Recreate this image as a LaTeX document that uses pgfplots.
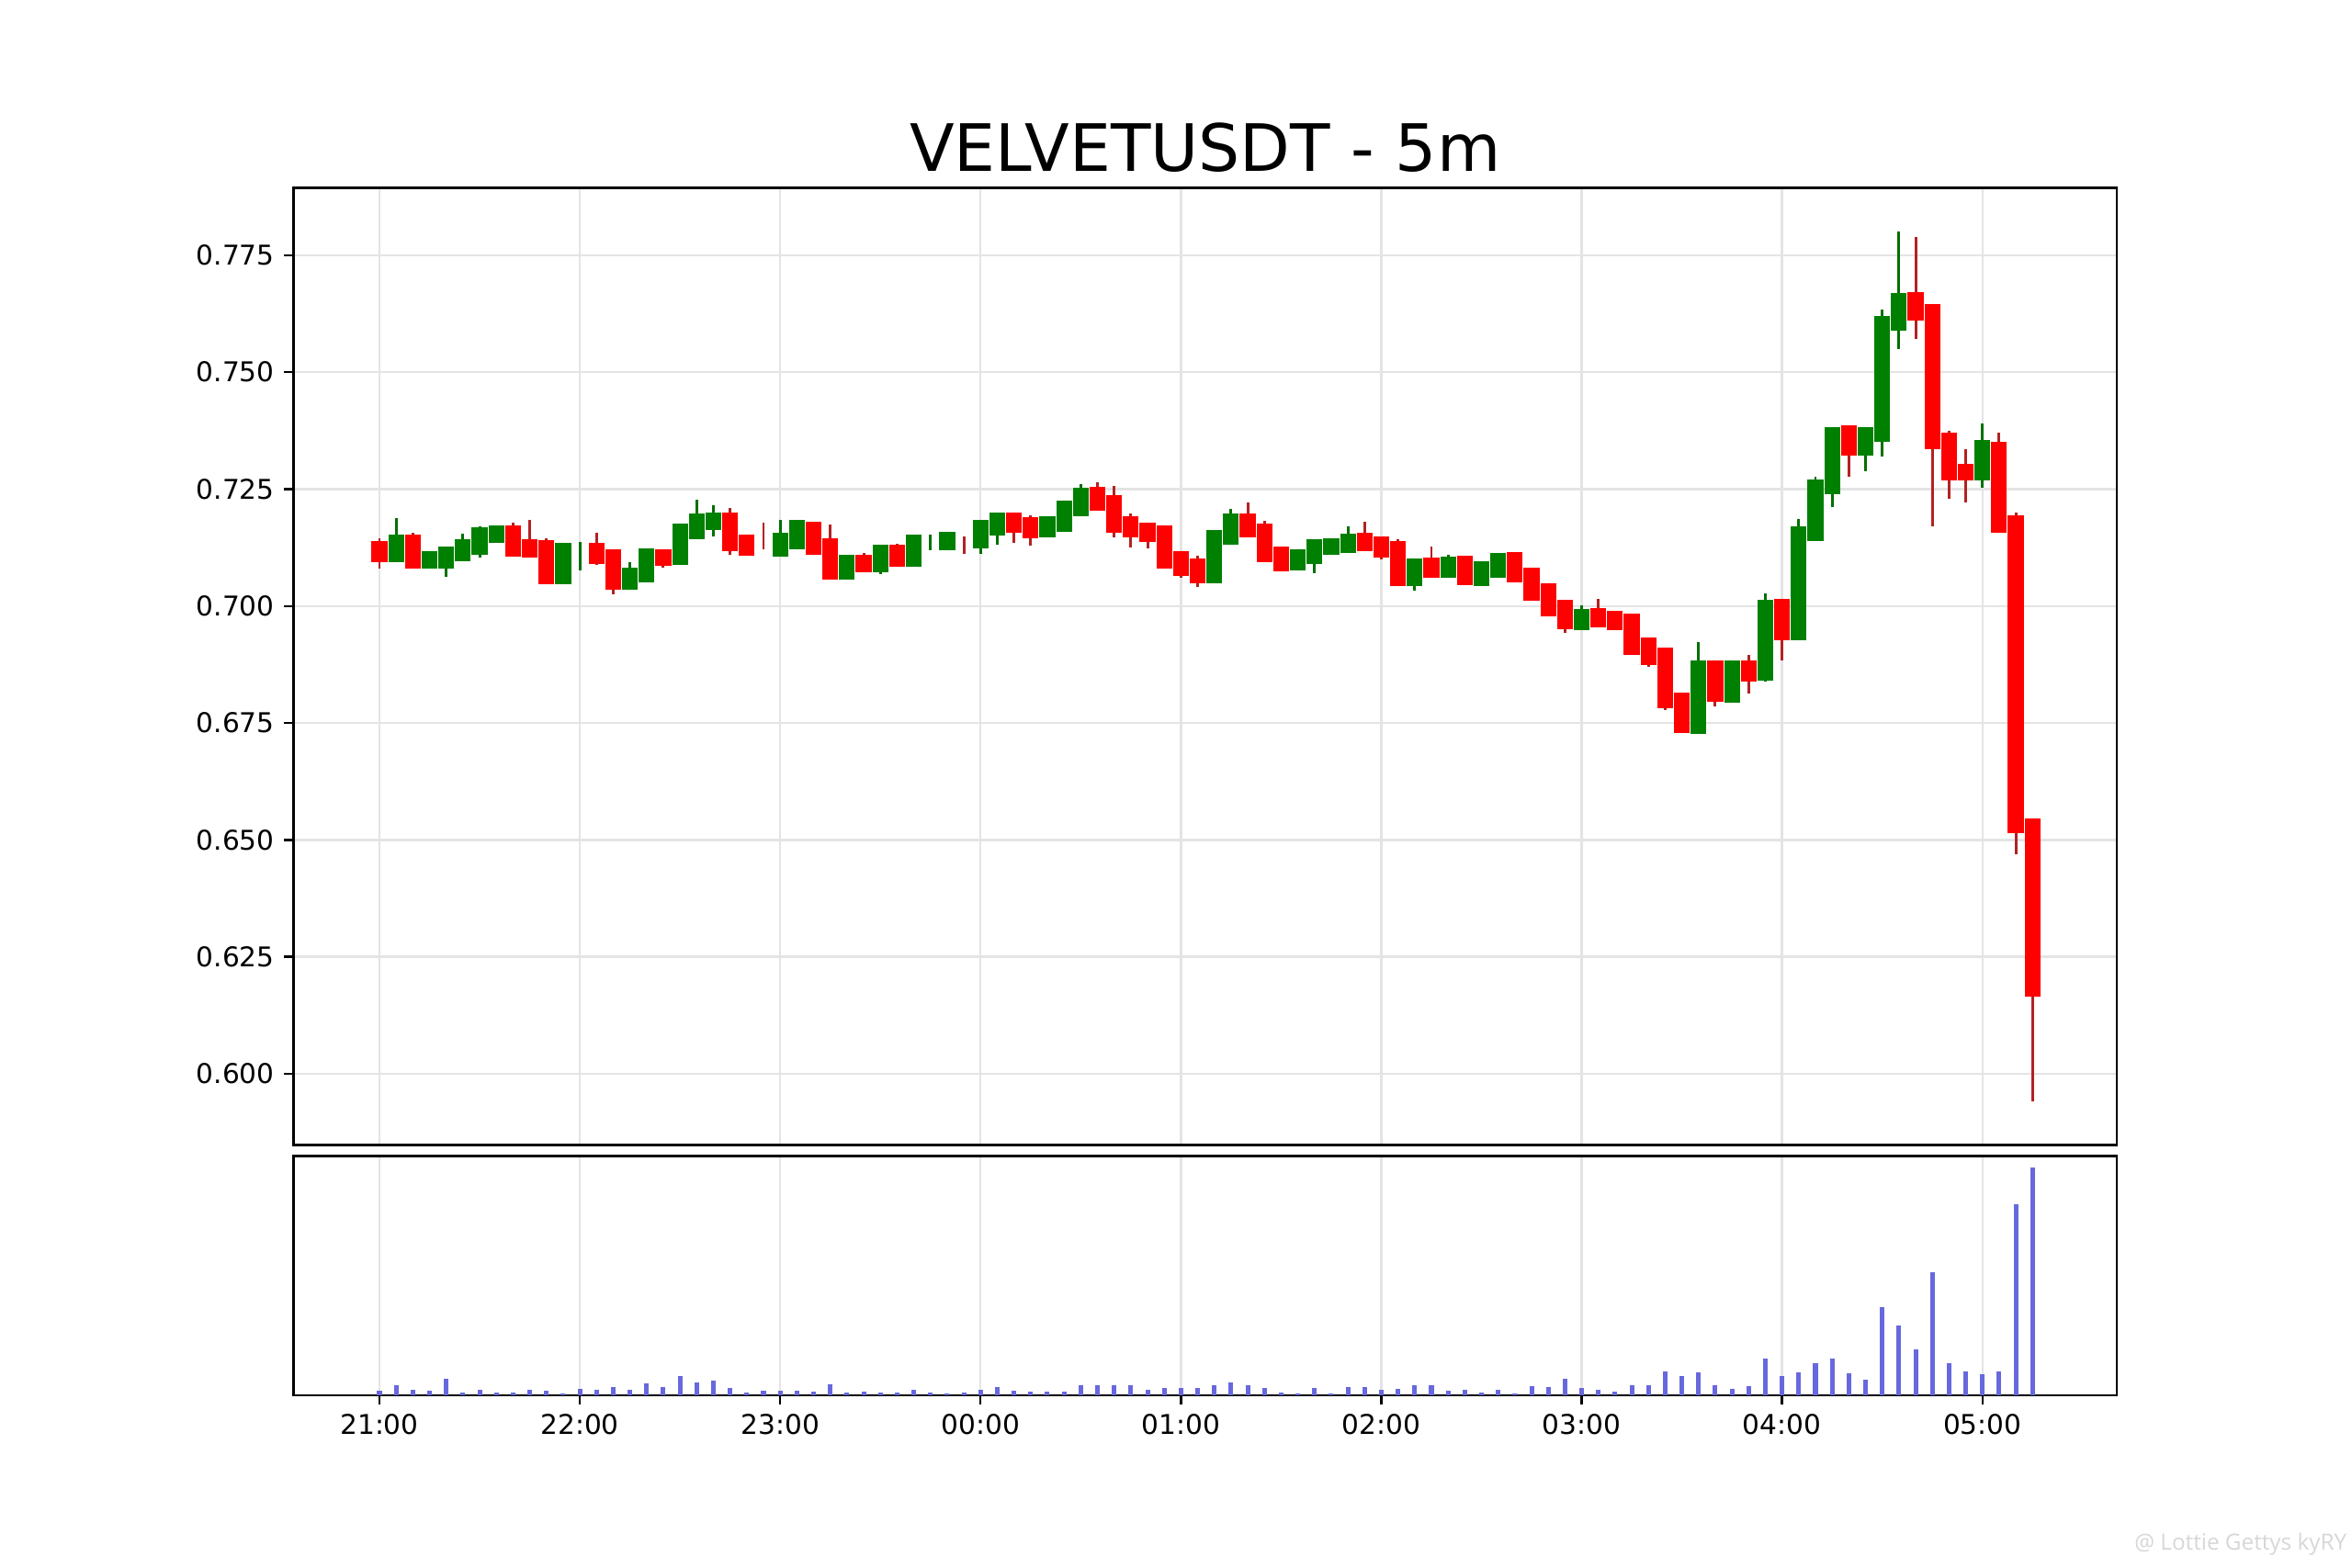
\documentclass[border=0pt]{standalone}
\usepackage{fontspec}
\setmainfont{DejaVu Sans}
\newfontfamily\wmfont{Open Sans}
\usepackage{pgfplots}
\usepackage{pgfplotstable}
\pgfplotsset{compat=1.18}

\definecolor{upbody}{RGB}{0,128,0}
\definecolor{downbody}{RGB}{255,0,0}
\definecolor{upwick}{RGB}{0,112,0}
\definecolor{downwick}{RGB}{178,34,34}
\definecolor{volc}{RGB}{104,104,222}
\definecolor{gridc}{RGB}{228,228,228}
\definecolor{wmc}{RGB}{215,215,215}

% green (up) candles: i open high low close
\pgfplotstableread{
i o h l c
1 0.7094 0.7188 0.7094 0.7152
3 0.7081 0.7117 0.7080 0.7117
4 0.7081 0.7128 0.7063 0.7128
5 0.7096 0.7155 0.7096 0.7143
6 0.7110 0.7170 0.7104 0.7168
7 0.7136 0.7173 0.7136 0.7172
11 0.7047 0.7135 0.7047 0.7135
12 0.7110 0.7138 0.7077 0.7110
15 0.7035 0.7094 0.7035 0.7083
16 0.7050 0.7124 0.7050 0.7124
18 0.7089 0.7176 0.7089 0.7176
19 0.7143 0.7228 0.7143 0.7198
20 0.7162 0.7215 0.7149 0.7200
24 0.7106 0.7184 0.7106 0.7156
25 0.7122 0.7184 0.7122 0.7184
28 0.7057 0.7109 0.7057 0.7109
30 0.7073 0.7132 0.7069 0.7132
32 0.7084 0.7152 0.7084 0.7152
33 0.7135 0.7152 0.7120 0.7135
34 0.7119 0.7158 0.7119 0.7158
36 0.7124 0.7184 0.7112 0.7184
37 0.7150 0.7200 0.7132 0.7200
40 0.7146 0.7193 0.7146 0.7193
41 0.7159 0.7225 0.7159 0.7225
42 0.7192 0.7260 0.7192 0.7253
50 0.7049 0.7162 0.7049 0.7162
51 0.7132 0.7207 0.7132 0.7199
55 0.7076 0.7122 0.7076 0.7122
56 0.7090 0.7142 0.7070 0.7142
57 0.7109 0.7144 0.7109 0.7144
58 0.7113 0.7170 0.7113 0.7154
62 0.7042 0.7101 0.7032 0.7101
64 0.7060 0.7109 0.7060 0.7105
66 0.7042 0.7096 0.7042 0.7096
67 0.7060 0.7113 0.7060 0.7113
72 0.6948 0.7002 0.6948 0.6993
79 0.6727 0.6923 0.6727 0.6883
81 0.6793 0.6884 0.6793 0.6884
83 0.6840 0.7028 0.6838 0.7014
85 0.6927 0.7187 0.6927 0.7171
86 0.7139 0.7276 0.7139 0.7271
87 0.7240 0.7383 0.7211 0.7383
89 0.7321 0.7383 0.7288 0.7383
90 0.7351 0.7635 0.7320 0.7620
91 0.7589 0.7801 0.7549 0.7670
96 0.7268 0.7391 0.7252 0.7355
}\updata

% red (down) candles: i open high low close
\pgfplotstableread{
i o h l c
0 0.7140 0.7145 0.7080 0.7094
2 0.7152 0.7156 0.7081 0.7081
8 0.7172 0.7178 0.7106 0.7106
9 0.7143 0.7184 0.7103 0.7103
10 0.7141 0.7144 0.7047 0.7047
13 0.7135 0.7156 0.7088 0.7089
14 0.7122 0.7122 0.7026 0.7035
17 0.7122 0.7122 0.7082 0.7086
21 0.7200 0.7210 0.7110 0.7118
22 0.7152 0.7152 0.7108 0.7108
23 0.7150 0.7179 0.7122 0.7150
26 0.7181 0.7181 0.7109 0.7109
27 0.7145 0.7175 0.7056 0.7056
29 0.7109 0.7113 0.7073 0.7073
31 0.7131 0.7133 0.7084 0.7084
35 0.7130 0.7148 0.7112 0.7130
38 0.7200 0.7200 0.7135 0.7156
39 0.7190 0.7194 0.7130 0.7145
43 0.7255 0.7264 0.7203 0.7203
44 0.7238 0.7257 0.7147 0.7156
45 0.7192 0.7198 0.7125 0.7146
46 0.7179 0.7179 0.7124 0.7138
47 0.7172 0.7172 0.7080 0.7080
48 0.7118 0.7118 0.7061 0.7065
49 0.7101 0.7107 0.7040 0.7049
52 0.7197 0.7222 0.7146 0.7146
53 0.7177 0.7183 0.7094 0.7094
54 0.7127 0.7127 0.7075 0.7075
59 0.7156 0.7181 0.7117 0.7117
60 0.7149 0.7149 0.7099 0.7103
61 0.7139 0.7143 0.7042 0.7042
63 0.7103 0.7128 0.7060 0.7060
65 0.7107 0.7107 0.7044 0.7044
68 0.7115 0.7115 0.7050 0.7050
69 0.7083 0.7083 0.7012 0.7012
70 0.7049 0.7049 0.6978 0.6978
71 0.7014 0.7014 0.6943 0.6950
73 0.6995 0.7015 0.6955 0.6955
74 0.6989 0.6989 0.6948 0.6948
75 0.6983 0.6983 0.6896 0.6896
76 0.6933 0.6933 0.6871 0.6874
77 0.6911 0.6911 0.6778 0.6781
78 0.6815 0.6815 0.6729 0.6729
80 0.6883 0.6883 0.6785 0.6795
82 0.6884 0.6895 0.6814 0.6839
84 0.7016 0.7016 0.6884 0.6927
88 0.7386 0.7386 0.7277 0.7322
92 0.7672 0.7790 0.7572 0.7610
93 0.7646 0.7646 0.7171 0.7336
94 0.7370 0.7375 0.7230 0.7268
95 0.7305 0.7335 0.7221 0.7268
97 0.7352 0.7371 0.7156 0.7156
98 0.7195 0.7200 0.6470 0.6514
99 0.6547 0.6547 0.5941 0.6166
}\downdata

% volume (relative units, max = 100)
\pgfplotstableread{
i v
0 2.1
1 4.4
2 2.4
3 2.1
4 7.2
5 1.3
6 2.4
7 1.2
8 1.3
9 2.6
10 2.1
11 0.9
12 2.8
13 2.6
14 3.8
15 2.4
16 5.4
17 3.8
18 8.5
19 5.8
20 6.6
21 3.2
22 1.2
23 2.1
24 2.1
25 2.1
26 1.7
27 4.7
28 1.3
29 1.7
30 1.3
31 1.2
32 2.4
33 1.3
34 0.8
35 1.2
36 2.4
37 3.5
38 2.1
39 1.7
40 1.7
41 1.7
42 4.3
43 4.3
44 4.4
45 4.4
46 2.4
47 3.2
48 3.2
49 3.4
50 4.4
51 5.8
52 4.4
53 3.4
54 1.2
55 0.9
56 3.4
57 0.9
58 3.8
59 3.8
60 2.4
61 3.0
62 4.4
63 4.4
64 2.1
65 2.6
66 1.2
67 2.6
68 0.9
69 4.2
70 3.5
71 7.4
72 3.2
73 2.6
74 1.6
75 4.4
76 4.4
77 10.6
78 8.5
79 10.1
80 4.4
81 3.0
82 4.2
83 16.0
84 8.3
85 10.1
86 14.1
87 16.2
88 9.8
89 7.0
90 38.8
91 30.7
92 20.3
93 54.0
94 14.1
95 10.3
96 9.4
97 10.6
98 83.6
99 100
}\voldata

\pgfplotsset{
  candleaxis/.style={
    scale only axis,
    anchor=south west,
    width=669.8pt,
    xmin=-5.15, xmax=104.05,
    axis line style={line width=0.8pt, black},
    tick align=outside,
    xtick pos=bottom, ytick pos=left,
    major tick length=3.5pt,
    major tick style={line width=0.8pt, black},
    tick label style={font=\fontsize{10}{12}\selectfont},
    xtick={0,12,24,36,48,60,72,84,96},
    grid style={line width=0.8pt, gridc},
  },
  candlepart/.style={draw=none, mark=none, forget plot,
    error bars/.cd, y dir=both, y explicit, error mark=none},
}

\begin{document}
\begin{tikzpicture}
\path[use as bounding box, fill=white] (0,0) rectangle (864pt,576pt);

% price panel
\begin{axis}[candleaxis,
  at={(107.8pt,155.35pt)},
  height=351.6pt,
  ymin=0.5848, ymax=0.7894,
  xmajorgrids=true, ymajorgrids=true,
  xticklabels={},
  xtick style={draw=none},
  ytick={0.6,0.625,0.65,0.675,0.7,0.725,0.75,0.775},
  scaled y ticks=false,
  yticklabel style={/pgf/number format/.cd, fixed, fixed zerofill, precision=3, assume math mode=true},
]
% wicks
\addplot[candlepart, error bar style={draw=downwick, line width=1pt, solid}]
  table[x=i, y expr={(\thisrow{h}+\thisrow{l})/2}, y error expr={(\thisrow{h}-\thisrow{l})/2}] {\downdata};
\addplot[candlepart, error bar style={draw=upwick, line width=1pt, solid}]
  table[x=i, y expr={(\thisrow{h}+\thisrow{l})/2}, y error expr={(\thisrow{h}-\thisrow{l})/2}] {\updata};
% bodies
\addplot[candlepart, error bar style={draw=downbody, line width=5.8pt, solid}]
  table[x=i, y expr={(\thisrow{o}+\thisrow{c})/2}, y error expr={abs(\thisrow{o}-\thisrow{c})/2}] {\downdata};
\addplot[candlepart, error bar style={draw=upbody, line width=5.8pt, solid}]
  table[x=i, y expr={(\thisrow{o}+\thisrow{c})/2}, y error expr={abs(\thisrow{o}-\thisrow{c})/2}] {\updata};
\end{axis}

\node[anchor=base, inner sep=0pt, font=\fontsize{24}{29}\selectfont] at (442.7pt,512.95pt) {VELVETUSDT - 5m};

% volume panel
\begin{axis}[candleaxis,
  at={(107.8pt,63.35pt)},
  height=87.95pt,
  ymin=0, ymax=105,
  ytick=\empty,
  xmajorgrids=true, ymajorgrids=false,
  xticklabels={21:00,22:00,23:00,00:00,01:00,02:00,03:00,04:00,05:00},
]
\addplot[ycomb, line width=1.7pt, volc, mark=none] table[x=i, y=v] {\voldata};
\end{axis}

\node[anchor=base west, text=wmc, font=\wmfont\fontsize{8.2}{10}\selectfont, inner sep=0pt] at (783.9pt,6.4pt) {@ Lottie Gettys kyRY};
\end{tikzpicture}
\end{document}
